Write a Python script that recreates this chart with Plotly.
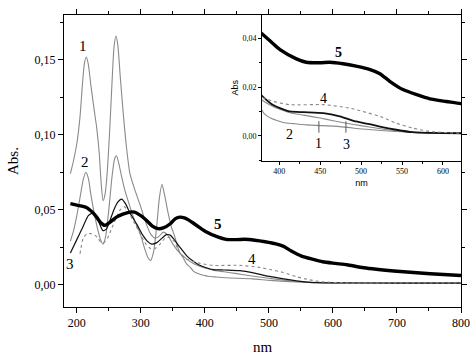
import plotly.graph_objects as go

# ---- data ----
wl1 = [190, 195, 200, 205, 209, 212, 215, 218, 222, 227, 231, 235, 238, 241, 244, 247, 251, 255, 258, 261,
       264, 268, 273, 278, 283, 290, 299, 308, 315, 322, 328, 335, 342, 350, 361, 372, 382, 390, 400, 413,
       430, 450, 466, 482, 500, 520, 540, 560, 600, 650, 700, 800]
abs1 = [0.074, 0.083, 0.094, 0.112, 0.135, 0.148, 0.152, 0.147, 0.133, 0.117, 0.105, 0.088, 0.068, 0.056,
        0.060, 0.072, 0.100, 0.135, 0.158, 0.166, 0.160, 0.138, 0.112, 0.090, 0.074, 0.064, 0.053, 0.041,
        0.034, 0.031, 0.032, 0.035, 0.033, 0.027, 0.021, 0.017, 0.0140, 0.0125, 0.0110, 0.0095, 0.0085,
        0.0073, 0.0062, 0.0052, 0.0042, 0.0031, 0.0022, 0.0015, 0.0011, 0.0010, 0.0010, 0.0010]

wl2 = [190, 195, 200, 205, 210, 214, 218, 222, 227, 232, 237, 241, 245, 250, 255, 259, 262, 266, 270, 275,
       283, 291, 299, 306, 311, 315, 320, 325, 329, 333, 337, 343, 348, 353, 360, 366, 371, 377, 382, 390,
       400, 405, 418, 433, 474, 502, 543, 600, 700, 800]
abs2 = [0.029, 0.036, 0.046, 0.058, 0.070, 0.075, 0.071, 0.060, 0.048, 0.038, 0.030, 0.027, 0.032, 0.050,
        0.072, 0.084, 0.086, 0.080, 0.072, 0.063, 0.052, 0.042, 0.034, 0.024, 0.018, 0.016, 0.022, 0.040,
        0.058, 0.067, 0.060, 0.047, 0.038, 0.032, 0.022, 0.018, 0.0140, 0.0116, 0.0090, 0.0072, 0.0060,
        0.0055, 0.0050, 0.0045, 0.0038, 0.0028, 0.0018, 0.0012, 0.0010, 0.0010]

wl3 = [190, 200, 210, 218, 226, 232, 237, 241, 246, 252, 258, 264, 270, 276, 284, 294, 303, 310, 317, 325,
       333, 340, 346, 352, 361, 372, 382, 391, 401, 413, 430, 454, 474, 494, 510, 523, 543, 563, 600, 700, 800]
abs3 = [0.021, 0.030, 0.039, 0.046, 0.048, 0.044, 0.039, 0.036, 0.037, 0.043, 0.050, 0.055, 0.057, 0.054,
        0.047, 0.040, 0.033, 0.029, 0.027, 0.028, 0.031, 0.0333, 0.033, 0.030, 0.025, 0.019, 0.0155, 0.0130,
        0.0114, 0.0100, 0.0097, 0.0093, 0.0080, 0.0059, 0.0048, 0.0038, 0.0025, 0.0015, 0.0011, 0.0010, 0.0010]

wl4 = [205, 210, 216, 222, 228, 233, 238, 242, 248, 255, 262, 268, 274, 280, 290, 300, 308, 315, 322, 330,
       338, 345, 352, 360, 371, 381, 393, 413, 454, 486, 502, 523, 543, 563, 584, 622, 700, 800]
abs4 = [0.0205, 0.031, 0.034, 0.034, 0.033, 0.031, 0.028, 0.028, 0.031, 0.038, 0.045, 0.050, 0.052, 0.049,
        0.041, 0.033, 0.027, 0.024, 0.024, 0.027, 0.031, 0.0315, 0.029, 0.022, 0.017, 0.0155, 0.0141, 0.0128,
        0.0128, 0.0114, 0.0100, 0.0080, 0.0052, 0.0032, 0.0018, 0.0011, 0.0010, 0.0010]

wl5 = [190, 200, 215, 225, 231, 238, 244, 250, 256, 262, 272, 283, 290, 300, 309, 318, 327, 336, 346, 354,
       361, 368, 375, 380, 392, 401, 421, 433, 450, 462, 478, 494, 511, 523, 535, 551, 568, 584, 604, 622,
       648, 700, 752, 800]
abs5 = [0.054, 0.053, 0.0515, 0.048, 0.045, 0.041, 0.0395, 0.041, 0.043, 0.045, 0.047, 0.0484, 0.0484,
        0.046, 0.0428, 0.039, 0.0373, 0.038, 0.0406, 0.044, 0.045, 0.0445, 0.043, 0.0416, 0.038, 0.0354,
        0.0316, 0.0302, 0.0300, 0.0302, 0.0296, 0.0286, 0.0272, 0.0255, 0.0224, 0.0190, 0.0169, 0.0152,
        0.0141, 0.0132, 0.0112, 0.0089, 0.0072, 0.0060]

series = [
    ("1", wl1, abs1, dict(color="#8a8a8a", width=1.1)),
    ("2", wl2, abs2, dict(color="#8a8a8a", width=1.1)),
    ("3", wl3, abs3, dict(color="#111111", width=1.2)),
    ("4", wl4, abs4, dict(color="#8a8a8a", width=1.1, dash="dot")),
    ("5", wl5, abs5, dict(color="#000000", width=3.4)),
]

# curve labels: (text, x, y, bold)
main_labels = [("1", 210, 0.159, False), ("2", 213, 0.082, False), ("3", 189.5, 0.014, False),
               ("4", 473, 0.0172, False), ("5", 421, 0.0406, True)]
inset_labels = [("5", 472, 0.0343, True), ("4", 454, 0.0155, False), ("2", 413, 0.0004, False),
                ("1", 448, -0.0032, False), ("3", 482, -0.0034, False)]
pointer_x = [448.5, 481.5]

SERIF = "Liberation Serif"
SANS = "Liberation Sans"

fig = go.Figure()
for name, x, y, ln in series:
    fig.add_trace(go.Scatter(x=x, y=y, mode="lines", line=dict(shape="spline", smoothing=0.6, **ln),
                             name=name, showlegend=False, xaxis="x", yaxis="y"))
for name, x, y, ln in series:
    ln2 = dict(ln)
    if name == "3":
        ln2["width"] = 1.8
    fig.add_trace(go.Scatter(x=x, y=y, mode="lines", line=dict(shape="spline", smoothing=0.6, **ln2),
                             name=name, showlegend=False, xaxis="x2", yaxis="y2"))

ann = []
for t, x, y, b in main_labels:
    ann.append(dict(x=x, y=y, xref="x", yref="y", text=f"<b>{t}</b>" if b else t, showarrow=False,
                    font=dict(family=SERIF, size=15, color="black")))
for t, x, y, b in inset_labels:
    ann.append(dict(x=x, y=y, xref="x2", yref="y2", text=f"<b>{t}</b>" if b else t, showarrow=False,
                    font=dict(family=SERIF, size=14, color="black")))

shapes = [dict(type="line", xref="x2", yref="y2", x0=px, x1=px, y0=0.0013, y1=0.0060,
               line=dict(color="#555555", width=1)) for px in pointer_x]

axis_common = dict(showline=True, linecolor="black", linewidth=1, ticks="outside", tickcolor="black",
                   showgrid=False, zeroline=False, automargin=False)

fig.update_layout(
    template="none",
    width=474, height=355,
    margin=dict(l=64, r=13, t=15, b=48),
    paper_bgcolor="white", plot_bgcolor="white",
    separators=",.",
    annotations=ann, shapes=shapes,
    xaxis=dict(**axis_common, range=[180, 800], dtick=100, tick0=0, ticklen=5, mirror="ticks",
               minor=dict(dtick=50, ticks="outside", ticklen=3, tickcolor="black"),
               tickfont=dict(family=SERIF, size=12, color="black"),
               title=dict(text="nm", font=dict(family=SERIF, size=15, color="black"), standoff=12)),
    yaxis=dict(**axis_common, range=[-0.015, 0.18], dtick=0.05, tick0=0, tickformat=".2f", ticklen=5,
               mirror="ticks",
               minor=dict(dtick=0.025, ticks="outside", ticklen=3, tickcolor="black"),
               tickfont=dict(family=SERIF, size=12, color="black"),
               title=dict(text="Abs.", font=dict(family=SERIF, size=15, color="black"), standoff=12)),
    xaxis2=dict(**axis_common, domain=[0.4987, 1.0], anchor="y2", range=[379, 622], dtick=50, tick0=0,
                ticklen=3, minor=dict(dtick=25, ticks="outside", ticklen=2, tickcolor="black"),
                tickfont=dict(family=SERIF, size=8, color="black"),
                title=dict(text="nm", font=dict(family=SANS, size=9, color="black"), standoff=4)),
    yaxis2=dict(**axis_common, domain=[0.501, 1.0], anchor="x2", range=[-0.0102, 0.0496], dtick=0.02,
                tick0=0, tickformat=".2f", ticklen=3,
                minor=dict(dtick=0.01, ticks="outside", ticklen=2, tickcolor="black"),
                tickfont=dict(family=SERIF, size=8, color="black"),
                title=dict(text="Abs", font=dict(family=SANS, size=9, color="black"), standoff=2)),
)

fig.write_html("out.html", config={"displayModeBar": False, "staticPlot": True},
               post_script="document.body.style.margin='0px';document.body.style.overflow='hidden';")
